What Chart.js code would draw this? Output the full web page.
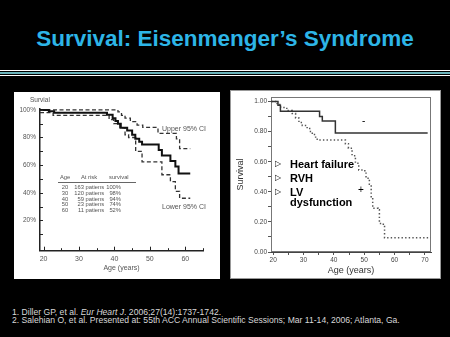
<!DOCTYPE html>
<html>
<head>
<meta charset="utf-8">
<script src="https://cdn.jsdelivr.net/npm/chart.js@4.4.1/dist/chart.umd.min.js"></script>
<style>
  body { margin: 0; width: 450px; height: 337px; background: #000; position: relative; overflow: hidden;
         font-family: "Liberation Sans", Arial, sans-serif; }
  .abs { position: absolute; white-space: nowrap; line-height: 1; }
  #title { left: 0; top: 27.6px; width: 450px; text-align: center; color: #2db5e7; font-weight: bold; font-size: 22.5px; }
  .rule { position: absolute; left: 0; width: 450px; }
  .panel { position: absolute; background: #fff; }
  #leftPanel { left: 14px; top: 92px; width: 206px; height: 187px; }
  #rightPanel { left: 230px; top: 90px; width: 211px; height: 189px; border: 1px solid #999; box-sizing: border-box; }
  .small { font-size: 7px; color: #555; }
  .tbl { font-size: 5.8px; color: #555; }
  .bullet { font-family: "DejaVu Sans", sans-serif; font-size: 8px; color: #000; }
  .bold { font-size: 11px; font-weight: bold; color: #000; }
  .notes { left: 12px; font-size: 8.6px; color: #d8d8d8; }
</style>
</head>
<body>
<div id="title" class="abs">Survival: Eisenmenger’s Syndrome</div>
<div class="rule" style="top:70px;height:1px;background:#fff"></div>
<div class="rule" style="top:72px;height:2px;background:#6ab3ba"></div>
<div class="rule" style="top:75px;height:1px;background:#fff"></div>

<div id="leftPanel" class="panel"><canvas id="leftChart" width="206" height="187"></canvas></div>
<div id="rightPanel" class="panel"><canvas id="rightChart" width="209" height="187"></canvas></div>

<!-- left panel labels -->
<div class="abs small" style="left:30px;top:96.8px;font-size:6.5px">Survial</div>
<div class="abs small" style="left:162px;top:124.6px">Upper 95% CI</div>
<div class="abs small" style="left:162px;top:202.6px">Lower 95% CI</div>
<div id="riskTable"></div>

<!-- right panel labels -->
<div class="abs bullet" style="left:275px;top:159.5px">▷</div>
<div class="abs bullet" style="left:275px;top:173.5px">▷</div>
<div class="abs bullet" style="left:275px;top:187.5px">▷</div>
<div class="abs bold" style="left:290px;top:158.6px">Heart failure</div>
<div class="abs bold" style="left:290px;top:172.6px">RVH</div>
<div class="abs bold" style="left:290px;top:186.6px">LV</div>
<div class="abs bold" style="left:290px;top:196.9px">dysfunction</div>
<div class="abs" style="left:362px;top:116px;font-size:10px;color:#000">-</div>
<div class="abs" style="left:358px;top:185px;font-size:10px;color:#000">+</div>

<div class="abs notes" style="top:307.8px">1. Diller GP, et al. <i>Eur Heart J</i>. 2006;27(14):1737-1742.</div>
<div class="abs notes" style="top:316.3px">2. Salehian O, et al. Presented at: 55th ACC Annual Scientific Sessions; Mar 11-14, 2006; Atlanta, Ga.</div>

<script>
// Kaplan-Meier survival, whole cohort (left)
const dillerAges     = [19, 21.5, 23, 37.9, 39.5, 40.3, 41, 41.8, 43.6, 45, 45.9, 47, 47.8, 52.5, 53.4, 55.8, 57.2, 58.1, 61.4];
const dillerSurvival = [100, 99, 98, 96.5, 94, 92, 90, 87, 85, 82, 79, 77, 75, 71, 67, 63, 59, 54, 54];
const upperAges = [19, 39.8, 41, 42, 43, 44.5, 46.4, 48, 52.3, 57.5, 58.4, 61.4];
const upperCI   = [100, 100, 98.5, 96, 94, 91.5, 89, 87.4, 83, 79, 72, 72];
const lowerAges = [19, 22.7, 37.8, 38.5, 39.8, 41.5, 43, 44, 46, 47.8, 53.4, 55.8, 57.2, 58.4, 61.4];
const lowerCI   = [98, 96, 96, 93, 90, 87, 82, 80, 70, 62.4, 53, 48, 41, 36, 36];

// patients at risk
const tableAges     = [20, 30, 40, 50, 60];
const tableAtRisk   = [163, 120, 59, 23, 11];
const tableSurvival = ['100%', '98%', '94%', '74%', '52%'];

// survival by heart failure (right): "-" without, "+" with
const hfAbsentAges  = [19.4, 21.6, 22.4, 35.3, 36.2, 40.5, 70.9];
const hfAbsentSurv  = [1.00, 0.975, 0.936, 0.90, 0.87, 0.79, 0.79];
const hfPresentAges = [19.4, 21.3, 22.5, 24.5, 26.3, 27.4, 28.5, 29.6, 31.2, 32.3, 32.9, 34, 35.1, 42.8, 43.8, 44.8, 46, 47.1, 48.2, 50.2, 50.6, 51.7, 52.3, 52.8, 54.6, 55, 56.3, 56.7, 71.8];
const hfPresentSurv = [1.00, 0.98, 0.96, 0.94, 0.92, 0.89, 0.86, 0.84, 0.82, 0.80, 0.78, 0.75, 0.745, 0.745, 0.72, 0.69, 0.64, 0.59, 0.545, 0.53, 0.49, 0.45, 0.36, 0.29, 0.28, 0.19, 0.185, 0.095, 0.095];

const zip = (xs, ys) => xs.map((x, i) => ({x: x, y: ys[i]}));
const FONT = '"Liberation Sans", Arial, sans-serif';

// risk table
(function () {
  const box = document.getElementById('riskTable');
  let html = '';
  const head = 174.8;
  html += '<div class="abs tbl" style="left:60px;top:' + head + 'px">Age</div>';
  html += '<div class="abs tbl" style="left:81px;top:' + head + 'px">At risk</div>';
  html += '<div class="abs tbl" style="left:109px;top:' + head + 'px">survival</div>';
  html += '<div style="position:absolute;left:58px;top:182px;width:78px;height:1px;background:#666"></div>';
  tableAges.forEach((a, i) => {
    const top = 185.4 + i * 5.55;
    html += '<div class="abs tbl" style="left:60px;width:10px;text-align:center;top:' + top + 'px">' + a + '</div>';
    html += '<div class="abs tbl" style="left:72px;width:12px;text-align:right;top:' + top + 'px">' + tableAtRisk[i] + '</div>';
    html += '<div class="abs tbl" style="left:85.5px;top:' + top + 'px">patiens</div>';
    html += '<div class="abs tbl" style="left:101px;width:20px;text-align:right;top:' + top + 'px">' + tableSurvival[i] + '</div>';
  });
  box.innerHTML = html;
})();

// tick marks pointing into the plot
const inwardTicks = {
  id: 'inwardTicks',
  afterDraw(chart) {
    const {ctx, chartArea: a, scales: {x, y}} = chart;
    ctx.save();
    ctx.strokeStyle = '#222';
    ctx.lineWidth = 1;
    y.ticks.forEach(t => {
      if (t.value === 0) return;
      const py = Math.round(y.getPixelForValue(t.value)) + 0.5;
      ctx.beginPath(); ctx.moveTo(a.left, py); ctx.lineTo(a.left + 3, py); ctx.stroke();
    });
    x.ticks.forEach(t => {
      const px = Math.round(x.getPixelForValue(t.value)) + 0.5;
      const len = t.value % 10 === 0 ? 4 : 2.5;
      ctx.beginPath(); ctx.moveTo(px, a.bottom); ctx.lineTo(px, a.bottom - len); ctx.stroke();
    });
    ctx.restore();
  }
};

// box around the plot area
const plotFrame = {
  id: 'plotFrame',
  beforeDatasetsDraw(chart) {
    const {ctx, chartArea: a} = chart;
    ctx.save();
    ctx.strokeStyle = '#777';
    ctx.lineWidth = 1;
    ctx.strokeRect(a.left + 0.5, a.top + 0.5, a.right - a.left - 1, a.bottom - a.top - 1);
    ctx.restore();
  }
};

const lineDefaults = {stepped: 'before', pointRadius: 0, fill: false, tension: 0};

new Chart(document.getElementById('leftChart'), {
  type: 'line',
  data: {
    datasets: [
      Object.assign({data: zip(dillerAges, dillerSurvival), borderColor: '#111', borderWidth: 2}, lineDefaults),
      Object.assign({data: zip(upperAges, upperCI), borderColor: '#333', borderWidth: 1.3, borderDash: [4, 2.5]}, lineDefaults),
      Object.assign({data: zip(lowerAges, lowerCI), borderColor: '#333', borderWidth: 1.3, borderDash: [4, 2.5]}, lineDefaults)
    ]
  },
  options: {
    responsive: false,
    devicePixelRatio: 1,
    animation: false,
    layout: {padding: {top: 16.5, right: 17, left: 0, bottom: 0}},
    plugins: {legend: {display: false}, tooltip: {enabled: false}},
    scales: {
      x: {
        type: 'linear', min: 19, max: 65,
        grid: {display: false, drawTicks: false},
        border: {display: true, color: '#222', width: 1.5},
        ticks: {stepSize: 5, includeBounds: false, padding: 4, color: '#555', font: {family: FONT, size: 7},
                maxRotation: 0, autoSkip: false,
                callback: v => (v % 10 === 0 ? String(v) : '')},
        title: {display: true, text: 'Age (years)', color: '#555', font: {family: FONT, size: 7}, padding: {top: 0, bottom: 6.8}},
        afterFit: s => { s.height = 28.3; }
      },
      y: {
        type: 'linear', min: -2, max: 101,
        grid: {display: false, drawTicks: false},
        border: {display: true, color: '#222', width: 1.5},
        ticks: {stepSize: 10, includeBounds: false, padding: 4, color: '#555', font: {family: FONT, size: 6.5},
                autoSkip: false,
                callback: v => (v > 0 && v % 20 === 0 ? v + '%' : '')},
        afterFit: s => { s.width = 26; }
      }
    }
  },
  plugins: [inwardTicks]
});

new Chart(document.getElementById('rightChart'), {
  type: 'line',
  data: {
    datasets: [
      Object.assign({data: zip(hfAbsentAges, hfAbsentSurv), borderColor: '#333', borderWidth: 1.5}, lineDefaults),
      Object.assign({data: zip(hfPresentAges, hfPresentSurv), borderColor: '#555', borderWidth: 1.5, borderDash: [1.4, 2.2]}, lineDefaults)
    ]
  },
  options: {
    responsive: false,
    devicePixelRatio: 1,
    animation: false,
    layout: {padding: {top: 6, right: 9, left: 0, bottom: 0}},
    plugins: {legend: {display: false}, tooltip: {enabled: false}},
    scales: {
      x: {
        type: 'linear', min: 19.3, max: 72,
        grid: {display: true, drawOnChartArea: false, drawTicks: true, tickLength: 3, color: '#555'},
        border: {display: true, color: '#444', width: 1},
        ticks: {stepSize: 5, includeBounds: false, padding: 1, color: '#444', font: {family: FONT, size: 6.5},
                maxRotation: 0, autoSkip: false,
                callback: v => (v % 10 === 0 ? String(v) : '')},
        title: {display: true, text: 'Age (years)', color: '#333', font: {family: FONT, size: 9}, padding: {top: 0, bottom: 1.9}},
        afterFit: s => { s.height = 26; }
      },
      y: {
        type: 'linear', min: 0, max: 1.03,
        grid: {display: true, drawOnChartArea: false, drawTicks: true, tickLength: 3, color: '#555'},
        border: {display: true, color: '#444', width: 1},
        ticks: {stepSize: 0.1, includeBounds: false, padding: 1, color: '#444', font: {family: FONT, size: 6.5},
                autoSkip: false,
                callback: v => (Math.abs(v * 5 - Math.round(v * 5)) < 1e-6 ? v.toFixed(2) : '')},
        title: {display: true, text: 'Survival', color: '#333', font: {family: FONT, size: 9}, padding: {top: 4.6, bottom: 0}},
        afterFit: s => { s.width = 40; }
      }
    }
  },
  plugins: [plotFrame]
});
</script>
</body>
</html>
